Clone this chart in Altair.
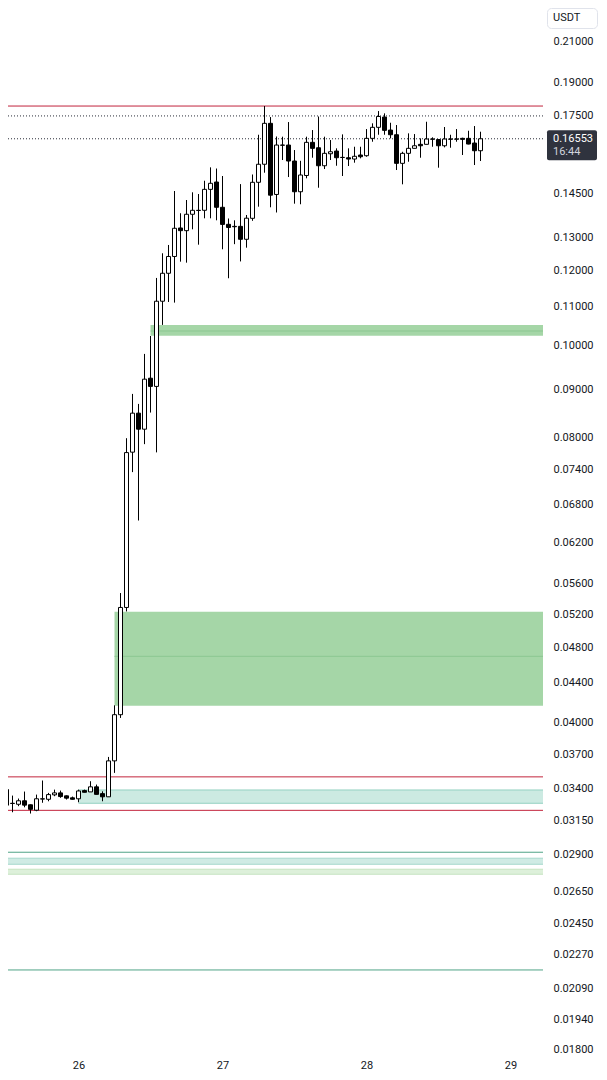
import math
import altair as alt
import pandas as pd

# ---------------- data (hourly candles, hour 0 = day 26 00:00) ----------------
hours = list(range(-13, 68))
opens = [0.03360, 0.03393, 0.03282, 0.03274, 0.03302, 0.03270, 0.03227, 0.03316, 0.03314, 0.03350,
         0.03366, 0.03342, 0.03326, 0.03318, 0.03385, 0.03374, 0.03416, 0.03360, 0.03334, 0.03639,
         0.04072, 0.05287, 0.07717, 0.08486, 0.08161, 0.09240, 0.09057, 0.11145, 0.11930, 0.12428,
         0.13321, 0.13234, 0.13773, 0.13907, 0.13907, 0.14635, 0.14898, 0.14009, 0.13440, 0.13374,
         0.13374, 0.12959, 0.13638, 0.14888, 0.15557, 0.17187, 0.14454, 0.16302, 0.16302, 0.15680,
         0.14550, 0.15137, 0.16410, 0.16195, 0.15501, 0.15960, 0.16066, 0.15821, 0.15806, 0.15756,
         0.15911, 0.15884, 0.16570, 0.17021, 0.17452, 0.16908, 0.16716, 0.15592, 0.15976, 0.16172,
         0.16330, 0.16330, 0.16543, 0.16522, 0.16274, 0.16543, 0.16535, 0.16570, 0.16570, 0.16382,
         0.16078]
highs = [0.03460, 0.03401, 0.03344, 0.03320, 0.03377, 0.03272, 0.03352, 0.03469, 0.03366, 0.03393,
         0.03385, 0.03345, 0.03336, 0.03393, 0.03393, 0.03463, 0.03435, 0.03379, 0.03674, 0.04166,
         0.05476, 0.07984, 0.08893, 0.08679, 0.09803, 0.10240, 0.11795, 0.12525, 0.12781, 0.14576,
         0.13807, 0.14260, 0.14530, 0.14470, 0.14945, 0.15440, 0.15396, 0.15118, 0.13632, 0.13572,
         0.14823, 0.13749, 0.15174, 0.16716, 0.17926, 0.17452, 0.16645, 0.16637, 0.17241, 0.16105,
         0.15688, 0.16637, 0.16908, 0.17475, 0.16637, 0.16502, 0.16172, 0.16731, 0.16172, 0.16235,
         0.16235, 0.16949, 0.17187, 0.17709, 0.17610, 0.17212, 0.17116, 0.16038, 0.16773, 0.16744,
         0.16570, 0.17254, 0.16612, 0.16543, 0.17034, 0.16716, 0.16949, 0.16596, 0.16880, 0.17074,
         0.16840]
lows = [0.03344, 0.03259, 0.03211, 0.03259, 0.03250, 0.03201, 0.03219, 0.03286, 0.03298, 0.03339,
        0.03326, 0.03312, 0.03312, 0.03290, 0.03371, 0.03374, 0.03354, 0.03298, 0.03334, 0.03534,
        0.04040, 0.05236, 0.07351, 0.06534, 0.07869, 0.08498, 0.07713, 0.10520, 0.11125, 0.11107,
        0.12272, 0.12242, 0.13278, 0.12790, 0.13638, 0.13638, 0.13572, 0.12648, 0.11786, 0.12806,
        0.12279, 0.12697, 0.13555, 0.14030, 0.15240, 0.14009, 0.13833, 0.15718, 0.15080, 0.14133,
        0.14113, 0.15033, 0.15806, 0.14693, 0.15377, 0.15718, 0.15501, 0.15118, 0.15490, 0.15616,
        0.15783, 0.15845, 0.16434, 0.16716, 0.16716, 0.16570, 0.15340, 0.14815, 0.15653, 0.16172,
        0.15806, 0.16330, 0.16235, 0.15427, 0.16211, 0.16195, 0.16434, 0.15911, 0.16330, 0.15528,
        0.15680]
closes = [0.03393, 0.03267, 0.03280, 0.03302, 0.03267, 0.03234, 0.03318, 0.03318, 0.03352, 0.03366,
          0.03336, 0.03323, 0.03314, 0.03382, 0.03371, 0.03416, 0.03354, 0.03334, 0.03639, 0.04072,
          0.05287, 0.07709, 0.08486, 0.08161, 0.09218, 0.09057, 0.11145, 0.11930, 0.12428, 0.13311,
          0.13234, 0.13773, 0.13907, 0.13900, 0.14635, 0.14852, 0.14009, 0.13437, 0.13337, 0.13361,
          0.12959, 0.13642, 0.14888, 0.15557, 0.17187, 0.14428, 0.16302, 0.16294, 0.15680, 0.14550,
          0.15155, 0.16410, 0.16172, 0.15501, 0.15976, 0.16038, 0.15806, 0.15814, 0.15756, 0.15861,
          0.15845, 0.16570, 0.17021, 0.17476, 0.16896, 0.16716, 0.15592, 0.15976, 0.16172, 0.16274,
          0.16274, 0.16543, 0.16535, 0.16274, 0.16543, 0.16535, 0.16543, 0.16530, 0.16342, 0.16078,
          0.16553]

# zones (start hour, top, bottom, fill)
zone_start = [12, 6, 0, None, None]
zone_top = [0.10517, 0.05233, 0.03390, 0.02871, 0.02795]
zone_bottom = [0.10247, 0.04162, 0.03282, 0.02829, 0.02761]
zone_fill = ["#a5d6a7", "#a5d6a7", "#cceae2", "#cfebe4", "#ddf0da"]

# horizontal level lines (start hour, price, colour)
line_start = [12, 6, 0, 0, None, None, None, None, None, None, None, None, None]
line_price = [0.10365, 0.04694, 0.03390, 0.03282, 0.02871, 0.02829, 0.02795, 0.02761,
              0.02913, 0.02187, 0.17926, 0.03500, 0.03226]
line_color = ["#8cc791", "#8cc791", "#93d1c1", "#93d1c1", "#a6d8cc", "#a6d8cc", "#c6e4c1", "#c6e4c1",
              "#4fa387", "#4fa387", "#c2243c", "#c2243c", "#c2243c"]

dotted_levels = [0.17500, 0.16553]

y_ticks = [0.018, 0.0194, 0.0209, 0.0227, 0.0245, 0.0265, 0.029, 0.0315, 0.034, 0.037, 0.04,
           0.044, 0.048, 0.052, 0.056, 0.062, 0.068, 0.074, 0.08, 0.09, 0.10, 0.11, 0.12, 0.13,
           0.145, 0.175, 0.19, 0.21]
day_ticks = [0, 24, 48, 72]
day_labels = ["26", "27", "28", "29"]

last_price = 0.16553
last_price_text = "0.16553"
countdown_text = "16:44"
currency = "USDT"

# ---------------- layout ----------------
W, H = 535, 1044
X_MIN = -11.75
X_MAX = X_MIN + W / 6.0
Y_MIN, Y_MAX = 0.01791, 0.2276
K = H / math.log(Y_MAX / Y_MIN)  # px per log unit

FONT = "Roboto"
TXT = "#131722"

xs = alt.Scale(domain=[X_MIN, X_MAX], nice=False, zero=False, padding=0)
ys = alt.Scale(type="log", domain=[Y_MIN, Y_MAX], nice=False, padding=0)

label_arr = "[" + ",".join("'%s'" % d for d in day_labels) + "]"
x_axis = alt.Axis(values=day_ticks, labelExpr=label_arr + "[round(datum.value/24)]",
                  ticks=False, domain=False, grid=False, title=None, labelPadding=7,
                  labelFont=FONT, labelFontSize=11, labelColor=TXT, labelFlush=False)
y_axis = alt.Axis(orient="right", values=y_ticks, format=".5f", ticks=False, domain=False,
                  grid=False, title=None, labelPadding=10, labelOverlap=False,
                  labelFont=FONT, labelFontSize=11, labelColor=TXT)


def X(f):
    return alt.X(f, type="quantitative", scale=xs, axis=x_axis)


def Y(f):
    return alt.Y(f, type="quantitative", scale=ys, axis=y_axis)


candles = pd.DataFrame({"hour": hours, "open": opens, "high": highs, "low": lows, "close": closes})

zones = pd.DataFrame({
    "start": [s if s is not None else X_MIN for s in zone_start],
    "end": [X_MAX] * len(zone_top),
    "top": zone_top, "bottom": zone_bottom, "fill": zone_fill,
})
levels = pd.DataFrame({
    "start": [s if s is not None else X_MIN for s in line_start],
    "end": [X_MAX] * len(line_price),
    "price": line_price, "color": line_color,
})
dots = pd.DataFrame({"price": dotted_levels})

zone_layer = alt.Chart(zones).mark_rect(clip=True).encode(
    x=X("start"), x2="end", y=Y("top"), y2="bottom", fill=alt.Fill("fill:N", scale=None))

level_layer = alt.Chart(levels).mark_rule(clip=True, strokeWidth=1).encode(
    x=X("start"), x2="end", y=Y("price"), color=alt.Color("color:N", scale=None))

dot_layer = alt.Chart(dots).mark_rule(clip=True, strokeDash=[1, 2], color="#2a2e39", strokeWidth=1).encode(
    y=Y("price"))

wick_layer = alt.Chart(candles).mark_rule(clip=True, color="black", strokeWidth=1).encode(
    x=X("hour"), y=Y("low"), y2="high")

body_layer = alt.Chart(candles).mark_bar(clip=True, size=4, stroke="black", strokeWidth=1).encode(
    x=X("hour"), y=Y("open"), y2="close",
    fill=alt.condition("datum.close >= datum.open", alt.value("white"), alt.value("black")))

label_df = pd.DataFrame({
    "price": [last_price],
    "top": [last_price * math.exp(8.6 / K)],
    "bottom": [last_price * math.exp(-21.4 / K)],
    "p": [last_price_text], "cd": [countdown_text],
})
price_box = alt.Chart(label_df).mark_rect(color="#2f333e", cornerRadius=2).encode(
    x=alt.value(W + 4), x2=alt.value(W + 54), y=Y("top"), y2="bottom")
price_txt = alt.Chart(label_df).mark_text(align="left", baseline="middle", color="white",
                                          font=FONT, fontSize=11).encode(
    x=alt.value(W + 10), y=Y("price"), text="p:N")
cd_txt = alt.Chart(label_df).mark_text(align="left", baseline="middle", color="#d1d4dc",
                                       font=FONT, fontSize=11, dy=13).encode(
    x=alt.value(W + 10), y=Y("price"), text="cd:N")

cur_df = pd.DataFrame({"t": [currency]})
cur_box = alt.Chart(cur_df).mark_rect(fill="white", stroke="#e0e3eb", strokeWidth=1, cornerRadius=4).encode(
    x=alt.value(W + 4.5), x2=alt.value(W + 54.5), y=alt.value(0.5), y2=alt.value(20.5))
cur_txt = alt.Chart(cur_df).mark_text(align="left", baseline="middle", color=TXT,
                                      font=FONT, fontSize=11).encode(
    x=alt.value(W + 10), y=alt.value(10), text="t:N")

chart = alt.layer(
    zone_layer, level_layer, dot_layer, wick_layer, body_layer,
    price_box, price_txt, cd_txt, cur_box, cur_txt,
).properties(width=W, height=H, padding=0, background="white").configure_view(stroke=None)

chart.save("out.html", embed_options={"renderer": "svg", "actions": False})
